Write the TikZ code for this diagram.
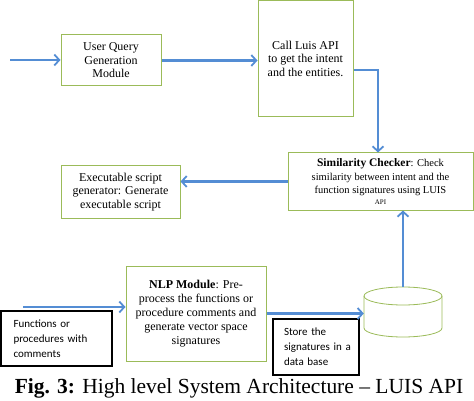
\documentclass[tikz,border=0pt]{standalone}
\usepackage{fontspec}
\setmainfont{Liberation Serif}
\newfontfamily\calibri{Carlito}
\usetikzlibrary{arrows.meta}

\definecolor{flowblue}{RGB}{84,141,212}
\definecolor{boxgreen}{RGB}{155,187,89}

\tikzset{
  module/.style={draw=boxgreen,line width=1pt,align=center,inner sep=0pt,
    font=\fontsize{12}{13.5}\selectfont},
  note/.style={draw=black,line width=1.6pt,align=left,inner sep=0pt,
    text width=#1,font=\calibri\fontsize{11}{15}\selectfont},
  flow/.style={->,flowblue,line width=2.4pt}
}

\begin{document}
\begin{tikzpicture}[x=1pt,y=-1pt,>={Straight Barb[length=5pt,width=11pt,line width=1.8pt]}]
  \useasboundingbox (0,0) rectangle (474,401);
  % boxes
  \node[module,minimum width=100,minimum height=51] (query) at (111,60.5)
    {User Query\\Generation\\Module};
  \node[module,minimum width=95,minimum height=116] (luis) at (305.5,58.5)
    {Call Luis API\\to get the intent\\and the entities.};
  \node[module,minimum width=185,minimum height=57,font=\fontsize{10.5}{13.5}\selectfont] (sim) at (380.5,181.5)
    {\textbf{\fontsize{11.5}{13.5}\selectfont Similarity Checker}: Check\\similarity between intent and the\\function signatures using LUIS\\[-3pt]{\fontsize{7}{7}\selectfont API}};
  \node[module,minimum width=119,minimum height=52] (exe) at (120.5,192)
    {Executable script\\generator: Generate\\executable script};
  \node[module,minimum width=140,minimum height=95,font=\fontsize{12}{14}\selectfont] (nlp) at (196,313.5)
    {\textbf{NLP Module}: Pre-\\process the functions or\\procedure comments and\\generate vector space\\signatures};
  % database
  \node[minimum width=78,minimum height=50,inner sep=0pt] (db) at (403,312) {};
  \draw[boxgreen,line width=0.8pt] (403,296) ellipse (39 and 9);
  \draw[boxgreen,line width=0.8pt] (364,296) -- (364,328) arc[start angle=180,end angle=360,x radius=39,y radius=-9] -- (442,296);
  % notes
  \node[note=100pt,minimum width=111,minimum height=55] (func) at (56.5,338.5)
    {\hspace*{7pt}Functions or\\\hspace*{7pt}procedures with\\\hspace*{7pt}comments};
  \node[note=78pt,minimum width=86,minimum height=56] (store) at (316,347)
    {\hspace*{7pt}Store the\\\hspace*{7pt}signatures in a\\\hspace*{7pt}data base};
  % connectors
  \coordinate (qin) at (10,60);
  \coordinate (fin) at (23,307);
  \coordinate (bend) at (378,70);
  \draw[flow] (qin) -- (qin -| query.west);
  \draw[flow] (query.east) -- (query.east -| luis.west);
  \draw[flow] (bend -| luis.east) -- (bend) -- (bend |- sim.north);
  \draw[flow] (sim.west) -- (sim.west -| exe.east);
  \draw[flow] (db.north) -- (db.north |- sim.south);
  \draw[flow] (fin) -- (fin -| nlp.west);
  \draw[flow] (nlp.east) -- (nlp.east -| db.west);
  % caption
  \node[font=\fontsize{21.5}{24}\selectfont] (caption) at (239,388)
    {\textbf{Fig. 3:} High level System Architecture -- LUIS API};
\end{tikzpicture}
\end{document}
